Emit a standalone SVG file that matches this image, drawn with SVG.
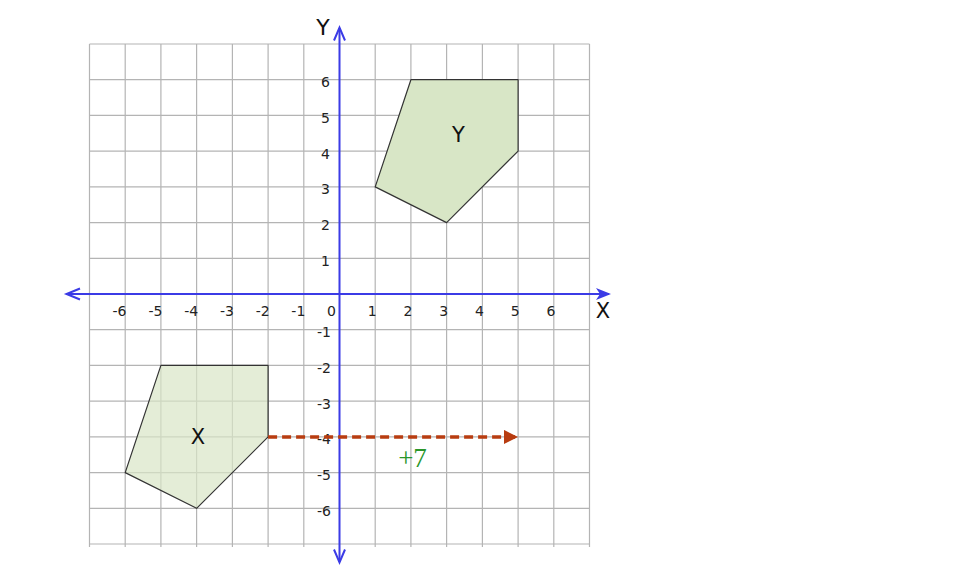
<svg xmlns="http://www.w3.org/2000/svg" width="974" height="579" viewBox="0 0 974 579">
<style>
.grid line{stroke:#b4b4b4;stroke-width:1.2}
.axis{stroke:#3b3be6;stroke-width:2;fill:none}
.tick{font-family:"DejaVu Sans",sans-serif;font-size:14px;fill:#222;text-anchor:end}
.lbl{font-family:"DejaVu Sans",sans-serif;font-size:21px;fill:#111;text-anchor:middle}
.shape{fill:#d8e6c6;stroke:#333;stroke-width:1.2;stroke-linejoin:round}
</style>
<defs>
<marker id="ah" viewBox="0 0 10 10" refX="10" refY="5" markerWidth="15" markerHeight="14" markerUnits="userSpaceOnUse" orient="auto">
<path d="M0,0 L10,5 L0,10 Z" fill="#b83c10"/>
</marker>
</defs>
<rect width="974" height="579" fill="#fff"/>
<g id="grid" class="grid">
<line x1="89.5" y1="44" x2="89.5" y2="547"/>
<line x1="125.2" y1="44" x2="125.2" y2="547"/>
<line x1="160.9" y1="44" x2="160.9" y2="547"/>
<line x1="196.6" y1="44" x2="196.6" y2="547"/>
<line x1="232.4" y1="44" x2="232.4" y2="547"/>
<line x1="268.1" y1="44" x2="268.1" y2="547"/>
<line x1="303.8" y1="44" x2="303.8" y2="547"/>
<line x1="375.2" y1="44" x2="375.2" y2="547"/>
<line x1="410.9" y1="44" x2="410.9" y2="547"/>
<line x1="446.6" y1="44" x2="446.6" y2="547"/>
<line x1="482.4" y1="44" x2="482.4" y2="547"/>
<line x1="518.1" y1="44" x2="518.1" y2="547"/>
<line x1="553.8" y1="44" x2="553.8" y2="547"/>
<line x1="589.5" y1="44" x2="589.5" y2="547"/>
<line x1="89.5" y1="44" x2="589.5" y2="44"/>
<line x1="89.5" y1="79.7" x2="589.5" y2="79.7"/>
<line x1="89.5" y1="115.4" x2="589.5" y2="115.4"/>
<line x1="89.5" y1="151.1" x2="589.5" y2="151.1"/>
<line x1="89.5" y1="186.9" x2="589.5" y2="186.9"/>
<line x1="89.5" y1="222.6" x2="589.5" y2="222.6"/>
<line x1="89.5" y1="258.3" x2="589.5" y2="258.3"/>
<line x1="89.5" y1="329.7" x2="589.5" y2="329.7"/>
<line x1="89.5" y1="365.4" x2="589.5" y2="365.4"/>
<line x1="89.5" y1="401.1" x2="589.5" y2="401.1"/>
<line x1="89.5" y1="436.9" x2="589.5" y2="436.9"/>
<line x1="89.5" y1="472.6" x2="589.5" y2="472.6"/>
<line x1="89.5" y1="508.3" x2="589.5" y2="508.3"/>
<line x1="89.5" y1="544" x2="589.5" y2="544"/>
</g>
<g id="shapeY">
<polygon class="shape" points="375.2,186.9 410.9,79.7 518.1,79.7 518.1,151.1 446.6,222.6"/>
<text class="lbl" x="458.5" y="141.5">Y</text>
</g>
<g id="shapeX">
<polygon class="shape" style="fill-opacity:0.7" points="125.2,472.6 160.9,365.4 268.1,365.4 268.1,436.9 196.6,508.3"/>
<text class="lbl" x="198" y="444">X</text>
</g>
<g id="axes">
<line class="axis" x1="66" y1="294" x2="609" y2="294"/>
<line class="axis" x1="339.5" y1="28" x2="339.5" y2="562"/>
<path class="axis" d="M80,288.5 L66.5,294 L80,299.5"/>
<path d="M611,294 L596,288 L600,294 L596,300 Z" fill="#3b3be6"/>
<path class="axis" d="M334,40.5 L339.5,27.5 L345,40.5"/>
<path class="axis" d="M334,549.5 L339.5,562.5 L345,549.5"/>
<text class="lbl" x="323" y="35" style="font-size:22px">Y</text>
<text class="lbl" x="603" y="318" style="font-size:21px">X</text>
</g>
<g id="xticks" class="tick">
<text x="126.5" y="316">-6</text>
<text x="162.4" y="316">-5</text>
<text x="198.1" y="316">-4</text>
<text x="233.9" y="316">-3</text>
<text x="269.6" y="316">-2</text>
<text x="305.3" y="316">-1</text>
<text x="336" y="316">0</text>
<text x="376.7" y="316">1</text>
<text x="412.4" y="316">2</text>
<text x="448.1" y="316">3</text>
<text x="483.9" y="316">4</text>
<text x="519.6" y="316">5</text>
<text x="555.3" y="316">6</text>
</g>
<g id="yticks" class="tick">
<text x="330" y="87.2">6</text>
<text x="330" y="122.9">5</text>
<text x="330" y="158.6">4</text>
<text x="330" y="194.4">3</text>
<text x="330" y="230.1">2</text>
<text x="330" y="265.8">1</text>
<text x="331" y="337.2">-1</text>
<text x="331" y="372.9">-2</text>
<text x="331" y="408.6">-3</text>
<text x="331" y="444.4">-4</text>
<text x="331" y="480.1">-5</text>
<text x="331" y="515.8">-6</text>
</g>
<g id="connectors">
<line x1="268.1" y1="436.9" x2="518" y2="436.9" stroke="#b83c10" stroke-width="3.5" stroke-dasharray="9,5" marker-end="url(#ah)"/>
<text x="412.5" y="466.5" style="font-family:'Liberation Serif',serif;font-size:27px;fill:#2a962a;text-anchor:middle">+7</text>
</g>
</svg>
